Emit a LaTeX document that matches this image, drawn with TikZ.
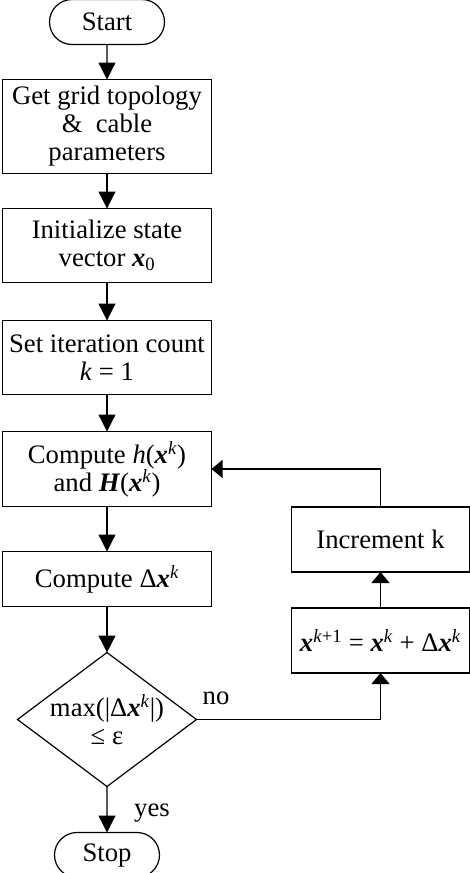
\documentclass[tikz,border=0pt]{standalone}
\usepackage{fontspec}
\setmainfont{Liberation Serif}
\usetikzlibrary{positioning,arrows.meta,shapes.geometric,shapes.misc}

\newcommand{\vx}{\textbf{\textit{x}}}
\newcommand{\supk}{\textsuperscript{\textit{k}}}

\begin{document}
\begin{tikzpicture}[
x=1pt, y=1pt,
every node/.style={font=\fontsize{26.7}{28}\selectfont},
box/.style={
draw,
line width=1.2pt,
outer sep=0pt,
minimum width=209pt,
align=center,
inner sep=2pt
},
term/.style={draw, line width=1.2pt, outer sep=0pt, rounded rectangle, minimum height=45pt, inner sep=2pt},
test/.style={draw, line width=1.2pt, outer sep=0pt, diamond, aspect=1.34,
minimum width=179pt, minimum height=134pt, inner sep=-4pt, align=center},
down/.style={-{Triangle[length=17pt,width=17pt]}, line width=1.2pt},
back/.style={-{Triangle[length=11pt,width=18pt]}, line width=1.2pt}
]

\useasboundingbox (-107,22) rectangle (363,-851);

\node[term, minimum width=119pt] (start) at (0,0) {Start};

\node[box, minimum height=94pt] (topo) [below=35pt of start]
{Get grid topology\\ \&~ cable\\ parameters};

\node[box, minimum height=74pt] (init) [below=35pt of topo]
{Initialize state\\ vector \vx\textsubscript{0}};

\node[box, minimum height=74pt] (count) [below=38pt of init]
{Set iteration count\\ \textit{k} = 1};

\node[box, minimum height=75pt] (jacob) [below=37pt of count]
{Compute \textit{h}(\vx\supk)\\ and \textbf{\textit{H}}(\vx\supk)};

\node[box, minimum height=55pt] (delta) [below=45pt of jacob]
{Compute Δ\vx\supk};

\node[test] (conv) [below=46pt of delta]
{max(|Δ\vx\supk|)\\ ≤ ε};

\node[term, minimum width=109pt] (stop) [below=46pt of conv] {Stop};

\node[box, minimum width=178pt, minimum height=65pt] (update) at (273.5,-618.5)
{\vx\textsuperscript{\textit{k}+1} = \vx\supk{} + Δ\vx\supk};

\node[box, minimum width=178pt, minimum height=65pt] (incr) [above=36pt of update]
{Increment k};

\node (no) at (109,-676.5) {no};
\node (yes) at (45,-791.5) {yes};

\draw[down] (start)--(topo);
\draw[down] (topo)--(init);
\draw[down] (init)--(count);
\draw[down] (count)--(jacob);
\draw[down] (jacob)--(delta);
\draw[down] (delta)--(conv);
\draw[down] (conv)--(stop);
\draw[back] (conv.east) -| (update.south);
\draw[back] (update)--(incr);
\draw[back] (incr.north) |- (jacob.east);

\end{tikzpicture}
\end{document}
